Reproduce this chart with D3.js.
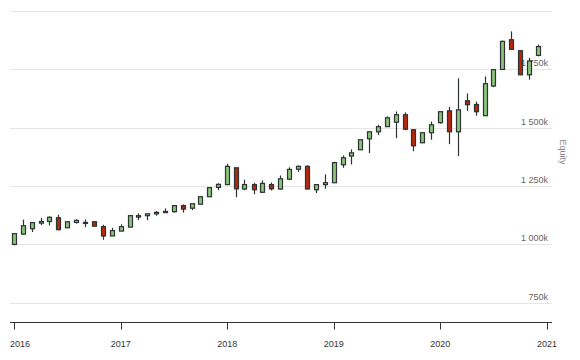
<!DOCTYPE html>
<html><head><meta charset="utf-8">
<script src="https://cdn.jsdelivr.net/npm/d3@7"></script>
<style>body{margin:0;background:#fff;}svg{display:block;font-family:"Liberation Sans",Arial,sans-serif;}</style>
</head><body>
<script>
const months = ["2016-01","2016-02","2016-03","2016-04","2016-05","2016-06","2016-07","2016-08","2016-09","2016-10","2016-11","2016-12",
"2017-01","2017-02","2017-03","2017-04","2017-05","2017-06","2017-07","2017-08","2017-09","2017-10","2017-11","2017-12",
"2018-01","2018-02","2018-03","2018-04","2018-05","2018-06","2018-07","2018-08","2018-09","2018-10","2018-11","2018-12",
"2019-01","2019-02","2019-03","2019-04","2019-05","2019-06","2019-07","2019-08","2019-09","2019-10","2019-11","2019-12",
"2020-01","2020-02","2020-03","2020-04","2020-05","2020-06","2020-07","2020-08","2020-09","2020-10","2020-11","2020-12"];
const open  = [1000,1044,1067,1091,1098,1114,1071,1094,1093,1097,1076,1036, 1057,1074,1117,1123,1131,1136,1140,1166,1155,1172,1204,1244, 1256,1328,1237,1256,1223,1256,1237,1279,1322,1334,1234,1256, 1264,1341,1378,1405,1452,1482,1504,1523,1555,1491,1435,1478, 1521,1572,1482,1615,1599,1551,1678,1749,1876,1829,1726,1809];
const high  = [1046,1106,1095,1114,1120,1127,1100,1107,1107,1097,1084,1071, 1086,1123,1133,1131,1143,1154,1166,1171,1174,1204,1243,1262, 1345,1328,1277,1264,1274,1265,1295,1330,1338,1339,1256,1300, 1354,1381,1407,1448,1482,1512,1548,1569,1565,1491,1478,1526, 1568,1589,1711,1646,1611,1719,1748,1873,1912,1829,1799,1855];
const low   = [ 996,1042,1053,1083,1081,1061,1071,1089,1074,1078,1020,1036, 1057,1074,1104,1104,1123,1136,1136,1136,1147,1172,1204,1232, 1256,1202,1232,1215,1220,1231,1234,1275,1311,1237,1220,1238, 1264,1328,1342,1405,1391,1468,1504,1455,1489,1399,1435,1448, 1517,1429,1378,1571,1551,1551,1673,1749,1835,1726,1705,1805];
const close = [1046,1080,1093,1098,1116,1063,1097,1103,1094,1078,1036,1059, 1076,1123,1123,1131,1137,1141,1166,1151,1174,1204,1243,1257, 1334,1238,1256,1234,1261,1238,1281,1321,1334,1237,1256,1264, 1350,1371,1392,1448,1482,1504,1542,1555,1493,1422,1478,1512, 1568,1482,1576,1598,1568,1688,1748,1869,1835,1726,1785,1847];
const yTicks = [750,1000,1250,1500,1750,2000];
const yLabels = ["750k","1 000k","1 250k","1 500k","1 750k",""];
const xTicks = ["2016","2017","2018","2019","2020","2021"];
const yTitle = "Equity";

const W = 580, H = 360;
const svg = d3.select("body").append("svg").attr("width", W).attr("height", H);
const parse = d3.timeParse("%Y-%m");
const x = d3.scaleTime().domain([new Date(2016,0,1), new Date(2021,0,1)]).range([14, 547]);
const y = d3.scaleLinear().domain([750, 1750]).range([302.8, 69.2]);
const left = 10, right = 552, axisY = 322.5;

// grid
svg.append("g").selectAll("line").data(yTicks).join("line")
  .attr("x1", left).attr("x2", right)
  .attr("y1", d => Math.round(y(d)) + 0.5).attr("y2", d => Math.round(y(d)) + 0.5)
  .attr("stroke", "#e6e6e6").attr("stroke-width", 1);

// y labels
svg.append("g").selectAll("text").data(yTicks).join("text")
  .attr("x", 548).attr("y", d => Math.round(y(d)) - 3)
  .attr("text-anchor", "end").attr("font-size", 9).attr("fill", "#666")
  .text((d, i) => yLabels[i]);

// y title
svg.append("text").attr("transform", "translate(560,152) rotate(90)")
  .attr("text-anchor", "middle").attr("font-size", 9).attr("fill", "#888").text(yTitle);

// x axis
const xg = svg.append("g").attr("transform", `translate(0,${axisY})`);
xg.append("line").attr("x1", left).attr("x2", right).attr("y1", 0).attr("y2", 0).attr("stroke", "#333").attr("stroke-width", 1.2);
const tickDates = xTicks.map(t => new Date(+t, 0, 1));
xg.selectAll(".tk").data(tickDates).join("line").attr("class","tk")
  .attr("x1", d => Math.round(x(d)) + 0.5).attr("x2", d => Math.round(x(d)) + 0.5)
  .attr("y1", 0).attr("y2", 7).attr("stroke", "#333").attr("stroke-width", 1);
xg.selectAll(".tl").data(tickDates).join("text").attr("class","tl")
  .attr("x", (d, i) => i === 0 ? left : x(d)).attr("y", 24)
  .attr("text-anchor", (d, i) => i === 0 ? "start" : "middle")
  .attr("font-size", 9).attr("fill", "#333")
  .text((d, i) => xTicks[i]);

// candles
const data = months.map((m, i) => ({d: parse(m), o: open[i], h: high[i], l: low[i], c: close[i]}));
const bw = 4;
const g = svg.append("g");
g.selectAll(".wick").data(data).join("line").attr("class","wick")
  .attr("x1", d => Math.round(x(d.d)) + 0.5).attr("x2", d => Math.round(x(d.d)) + 0.5)
  .attr("y1", d => y(d.h)).attr("y2", d => y(d.l))
  .attr("stroke", "#2b3333").attr("stroke-width", 1.2);
g.selectAll(".body").data(data).join("rect").attr("class","body")
  .attr("x", d => Math.round(x(d.d)) + 0.5 - bw / 2)
  .attr("width", bw)
  .attr("y", d => y(Math.max(d.o, d.c)))
  .attr("height", d => Math.max(1, Math.abs(y(d.o) - y(d.c))))
  .attr("fill", d => d.c >= d.o ? "#8cc47a" : "#b8260c")
  .attr("stroke", "#2b3333").attr("stroke-width", 1.2);
</script>
</body></html>
